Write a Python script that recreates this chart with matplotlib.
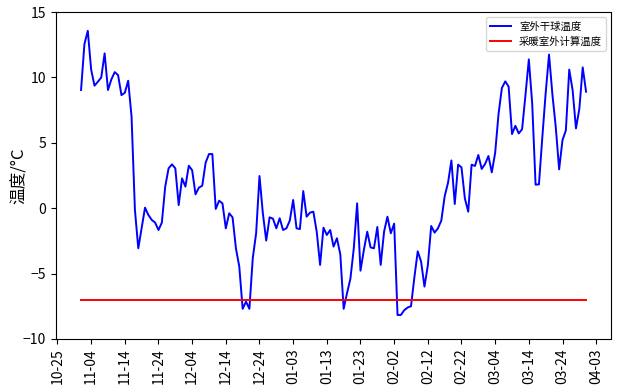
import numpy as np
import pandas as pd
import matplotlib
matplotlib.use("Agg")
import matplotlib.pyplot as plt
import matplotlib.dates as mdates

plt.rcParams['font.family'] = ['Noto Sans CJK SC', 'DejaVu Sans']
plt.rcParams['axes.unicode_minus'] = True

start_date = "2018-11-01"
nov = [9.04, 12.55, 13.57, 10.6, 9.37, 9.67, 10.0, 11.84, 9.04, 9.85,
       10.41, 10.18, 8.65, 8.83, 9.75, 7.0, -0.14, -3.07, -1.54, 0.04,
       -0.52, -0.9, -1.1, -1.67, -1.1, 1.65, 3.05, 3.35, 3.05, 0.24]
dec = [2.28, 1.65, 3.25, 2.9, 1.06, 1.57, 1.72, 3.48, 4.14, 4.14,
       -0.06, 0.57, 0.37, -1.54, -0.39, -0.7, -3.07, -4.47, -7.7, -7.15,
       -7.7, -3.83, -1.92, 2.46, -0.39, -2.48, -0.7, -0.8, -1.54, -0.77,
       -1.67]
jan = [-1.54, -0.95, 0.63, -1.54, -1.6, 1.31, -0.65, -0.34, -0.27, -1.8,
       -4.34, -1.49, -2.05, -1.67, -2.94, -2.3, -3.53, -7.7, -6.5, -5.4,
       -3.1, 0.37, -4.78, -3.2, -1.8, -3.0, -3.07, -1.44, -4.34, -1.8,
       -0.65]
feb = [-1.92, -1.18, -8.17, -8.17, -7.8, -7.6, -7.5, -5.3, -3.3, -4.09,
       -6.0, -4.38, -1.36, -1.87, -1.54, -0.95, 0.9, 1.95, 3.65, 0.32,
       3.33, 3.12, 0.75, -0.27, 3.33, 3.23, 4.07, 3.0]
mar = [3.38, 3.99, 2.74, 4.24, 7.2, 9.2, 9.7, 9.3, 5.67, 6.3,
       5.72, 6.04, 8.65, 11.38, 8.0, 1.8, 1.82, 5.4, 8.8, 11.75,
       8.7, 6.2, 2.97, 5.21, 5.95, 10.6, 9.04, 6.1, 7.6, 10.77,
       8.91]
design_temp = -7.0

temps = nov + dec + jan + feb + mar
dates = pd.date_range(start_date, periods=len(temps), freq="D")
design = [design_temp] * len(temps)

label_dry = "室外干球温度"
label_design = "采暖室外计算温度"
ylabel = "温度/°C"
tick_start = "2018-10-25"
n_ticks = 17

fig = plt.figure(figsize=(6.2, 3.9), dpi=100)
ax = fig.add_axes([0.090, 0.131, 0.896, 0.838])
ax.plot(dates, temps, color="blue", linewidth=1.4, label=label_dry)
ax.plot(dates, design, color="red", linewidth=1.4, label=label_design)

ax.set_ylim(-10, 15)
ax.set_yticks([-10, -5, 0, 5, 10, 15])
ticks = pd.date_range(tick_start, periods=n_ticks, freq="10D")
ax.set_xticks(ticks)
ax.xaxis.set_major_formatter(mdates.DateFormatter("%m-%d"))
for lab in ax.get_xticklabels():
    lab.set_rotation(90)
ax.tick_params(axis="both", labelsize=10)
ax.set_ylabel(ylabel, fontsize=12)
ax.yaxis.set_label_coords(-0.05, 0.5)
ax.legend(loc="upper right", fontsize=7.5)

fig.savefig("out.png", dpi=100)
